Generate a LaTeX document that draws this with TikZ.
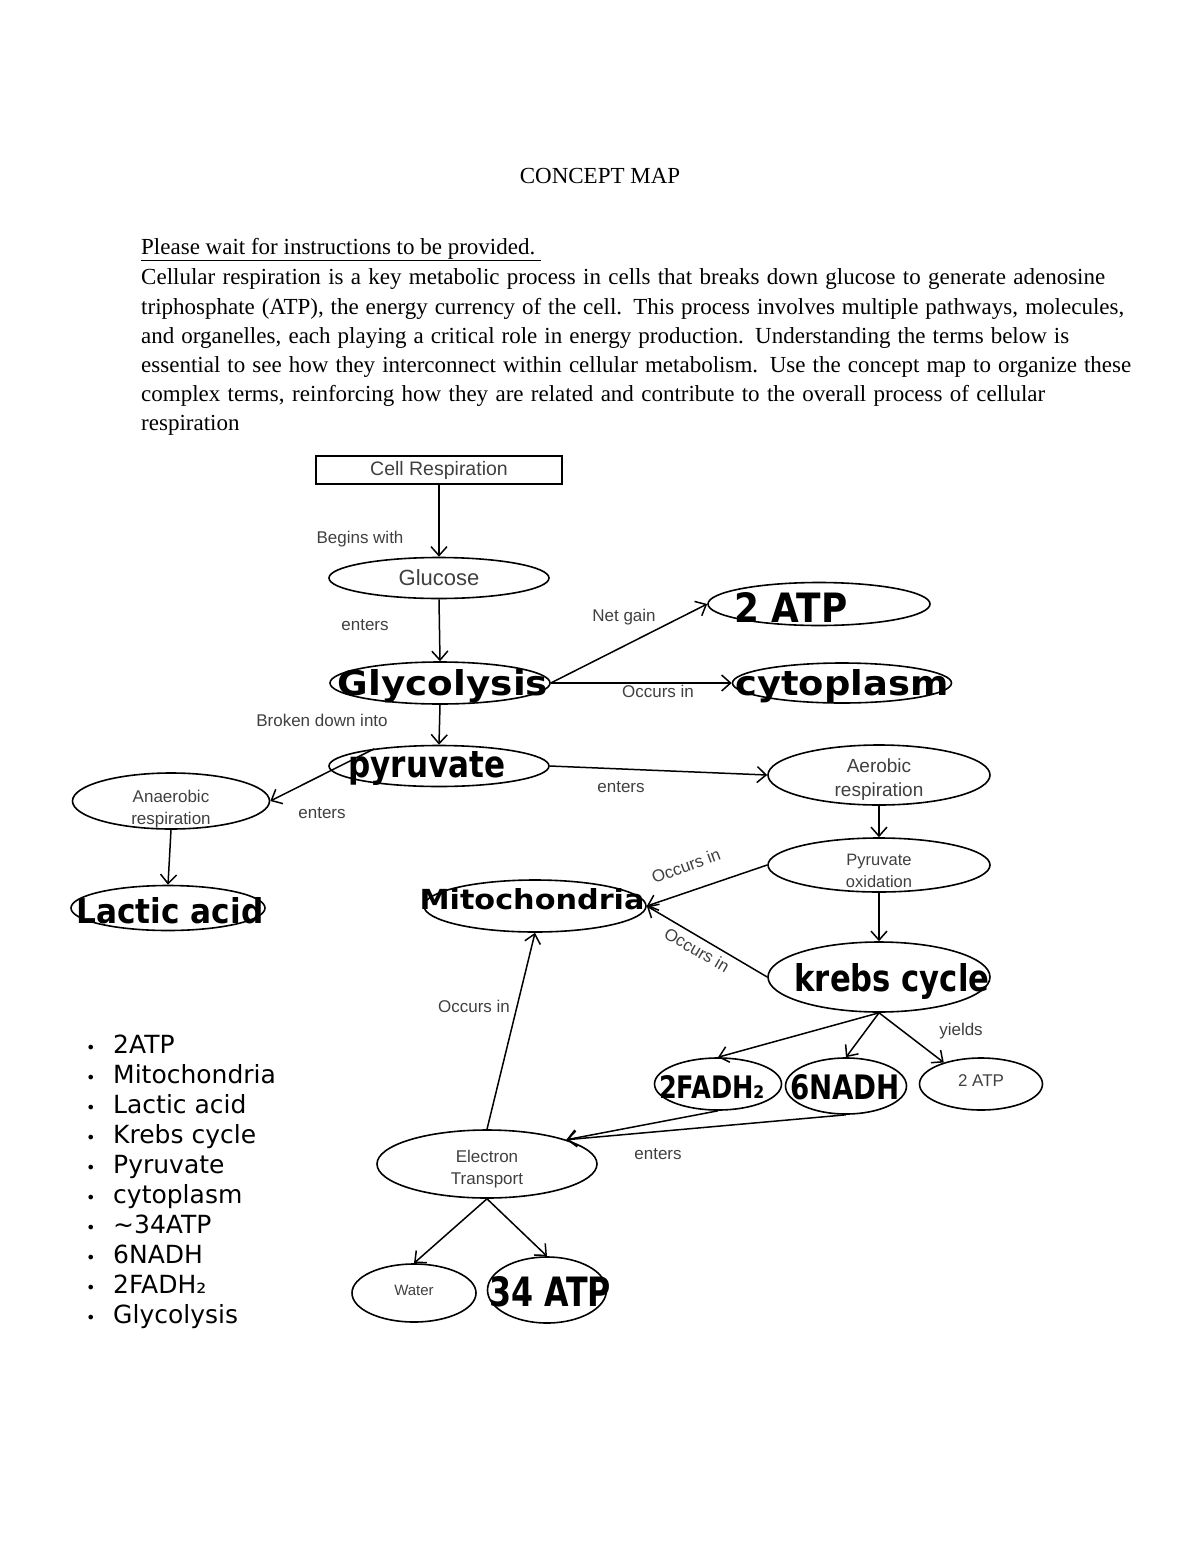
\documentclass[tikz,border=0pt]{standalone}
\usepackage{fontspec}
\setmainfont{Liberation Serif}
\newfontfamily\arialf{Liberation Sans}
\newfontfamily\dejavuf{DejaVu Sans}
\usetikzlibrary{shapes.geometric,arrows.meta}
\newcommand\handtxt[3]{\resizebox{#1pt}{#2pt}{\dejavuf\bfseries #3}}
\newcommand\bodyline[2]{\makebox[#1pt][s]{#2}}
\definecolor{lblgray}{HTML}{404040}
\tikzset{
  ell/.style={draw, ellipse, line width=1.6pt, inner sep=0pt},
  arr/.style={-{Straight Barb[length=9pt,width=16pt]}, line width=1.5pt},
  lbl/.style={font=\arialf\fontsize{17}{20}\selectfont, text=lblgray, inner sep=0pt},
  intext/.style={text=lblgray, inner sep=0pt, align=center},
  hand/.style={inner sep=0pt},
  body/.style={font=\fontsize{23}{29}\selectfont, anchor=base west, inner sep=0pt},
  bul/.style={font=\dejavuf\fontsize{25}{28}\selectfont, anchor=base west, inner sep=0pt}
}
\begin{document}
\begin{tikzpicture}[x=1pt,y=-1pt]
\fill[white] (0,0) rectangle (1200,1553);
\useasboundingbox (0,0) rectangle (1200,1553);

% title and paragraph
\node[font=\fontsize{23}{29}\selectfont, anchor=base, inner sep=0pt] (title) at (600,183) {CONCEPT MAP};
\node[body] (p1) at (141,254) {\underline{Please wait for instructions to be provided.\ }};
\node[body] (p2) at (141,284) {\bodyline{964}{Cellular respiration is a key metabolic process in cells that breaks down glucose to generate adenosine}};
\node[body] (p3) at (141,314) {\bodyline{983}{triphosphate (ATP), the energy currency of the cell. This process involves multiple pathways, molecules,}};
\node[body] (p4) at (141,343) {\bodyline{928}{and organelles, each playing a critical role in energy production. Understanding the terms below is}};
\node[body] (p5) at (141,372) {\bodyline{990}{essential to see how they interconnect within cellular metabolism. Use the concept map to organize these}};
\node[body] (p6) at (141,401) {\bodyline{904}{complex terms, reinforcing how they are related and contribute to the overall process of cellular}};
\node[body] (p7) at (141,430) {respiration};

% nodes
\node[draw, line width=1.6pt, minimum width=246pt, minimum height=28pt, inner sep=0pt,
      font=\arialf\fontsize{19.5}{22}\selectfont, text=lblgray] (cellresp) at (439,470) {Cell Respiration};
\node[ell, minimum width=220pt, minimum height=41pt] (glucose) at (439,578) {};
\node[intext, font=\arialf\fontsize{22}{24}\selectfont] (glucoseT) at (glucose.center) {Glucose};
\node[ell, minimum width=220pt, minimum height=42pt] (glyco) at (440,683) {};
\node[hand] (glycoT) at (443,686) {\handtxt{210}{26}{Glycolysis}};
\node[ell, minimum width=222pt, minimum height=43pt] (atp2) at (819,604) {};
\node[hand] (atp2T) at (791,607) {\handtxt{113}{30}{2 ATP}};
\node[ell, minimum width=219pt, minimum height=40pt] (cyto) at (842,683) {};
\node[hand] (cytoT) at (842,686) {\handtxt{213}{26}{cytoplasm}};
\node[ell, minimum width=220pt, minimum height=41pt] (pyr) at (439,766) {};
\node[hand] (pyrT) at (427,768) {\handtxt{157}{26}{pyruvate}};
\node[ell, minimum width=222pt, minimum height=60pt] (aer) at (879,775) {};
\node[intext, font=\arialf\fontsize{19}{24}\selectfont] (aerT) at (879,780) {Aerobic\\respiration};
\node[ell, minimum width=197pt, minimum height=56pt] (anaer) at (171,801) {};
\node[intext, font=\arialf\fontsize{17}{22}\selectfont] (anaerT) at (171,809) {Anaerobic\\respiration};
\node[ell, minimum width=194pt, minimum height=45pt] (lactic) at (168,908) {};
\node[hand] (lacticT) at (170,911) {\handtxt{187}{26}{Lactic acid}};
\node[ell, minimum width=222pt, minimum height=54pt] (pyox) at (879,865) {};
\node[intext, font=\arialf\fontsize{16.5}{22}\selectfont] (pyoxT) at (879,871) {Pyruvate\\oxidation};
\node[ell, minimum width=222pt, minimum height=70pt] (krebs) at (879,977) {};
\node[hand] (krebsT) at (892,981) {\handtxt{195}{28}{krebs cycle}};
\node[ell, minimum width=222pt, minimum height=52pt] (mito) at (535,906) {};
\node[hand] (mitoT) at (532,899) {\handtxt{225}{21}{Mitochondria}};
\node[ell, minimum width=127pt, minimum height=52pt] (fadh) at (718,1084) {};
\node[hand] (fadhT) at (712,1087) {\handtxt{106}{23}{2FADH₂}};
\node[ell, minimum width=121pt, minimum height=56pt] (nadh) at (846,1086) {};
\node[hand] (nadhT) at (845,1087) {\handtxt{110}{25}{6NADH}};
\node[ell, minimum width=123pt, minimum height=52pt] (atpk) at (981,1084) {};
\node[intext, font=\arialf\fontsize{17}{20}\selectfont] (atpkT) at (981,1081) {2 ATP};
\node[ell, minimum width=220pt, minimum height=68pt] (et) at (487,1164) {};
\node[intext, font=\arialf\fontsize{17}{22}\selectfont] (etT) at (487,1169) {Electron\\Transport};
\node[ell, minimum width=124pt, minimum height=58pt] (water) at (414,1293) {};
\node[intext, font=\arialf\fontsize{15}{18}\selectfont] (waterT) at (414,1290) {Water};
\node[ell, minimum width=119pt, minimum height=66pt] (atp34) at (547,1290) {};
\node[hand] (atp34T) at (550,1292) {\handtxt{122}{30}{34 ATP}};

% connectors
\draw[arr] (cellresp.south) -- (glucose.north);
\draw[arr] (glucose.south) -- (glyco.north);
\draw[arr] (glyco.east) -- (atp2.west);
\draw[arr] (glyco.east) -- (cyto.west);
\draw[arr] (glyco.south) -- (pyr.north);
\draw[arr] (pyr.east) -- (aer.west);
\draw[arr] (pyr.165) -- (anaer.east);
\draw[arr] (anaer.south) -- (lactic.north);
\draw[arr] (aer.south) -- (pyox.north);
\draw[arr] (pyox.south) -- (krebs.north);
\draw[arr] (pyox.west) -- (mito.east);
\draw[arr] (krebs.west) -- (mito.east);
\draw[arr] (et.north) -- (mito.south);
\draw[arr] (krebs.south) -- (fadh.north);
\draw[arr] (krebs.south) -- (nadh.north);
\draw[arr] (krebs.south) -- (atpk.150);
\draw[arr] (fadh.south) -- (et.17);
\draw[arr] (nadh.south) -- (et.17);
\draw[arr] (et.south) -- (water.north);
\draw[arr] (et.south) -- (atp34.north);

% link labels
\node[lbl] (l1) at (360,539) {Begins with};
\node[lbl] (l2) at (365,625) {enters};
\node[lbl] (l3) at (624,617) {Net gain};
\node[lbl] (l4) at (658,691) {Occurs in};
\node[lbl] (l5) at (322,720) {Broken down into};
\node[lbl] (l6) at (621,787) {enters};
\node[lbl] (l7) at (322,813) {enters};
\node[lbl, rotate=20] (l8) at (686,866) {Occurs in};
\node[lbl, rotate=-30] (l9) at (697,950) {Occurs in};
\node[lbl] (l10) at (474,1006) {Occurs in};
\node[lbl] (l11) at (961,1031) {yields};
\node[lbl] (l12) at (658,1154) {enters};

% term list
\foreach \t [count=\i] in {2ATP, Mitochondria, Lactic acid, Krebs cycle, Pyruvate, cytoplasm, {\string~34ATP}, 6NADH, 2FADH₂, Glycolysis} {
  \node[bul] (b\i) at (86,{1023+30*\i}) {\fontsize{16}{16}\selectfont•};
  \node[bul] (t\i) at (113,{1023+30*\i}) {\t};
}
\end{tikzpicture}
\end{document}
